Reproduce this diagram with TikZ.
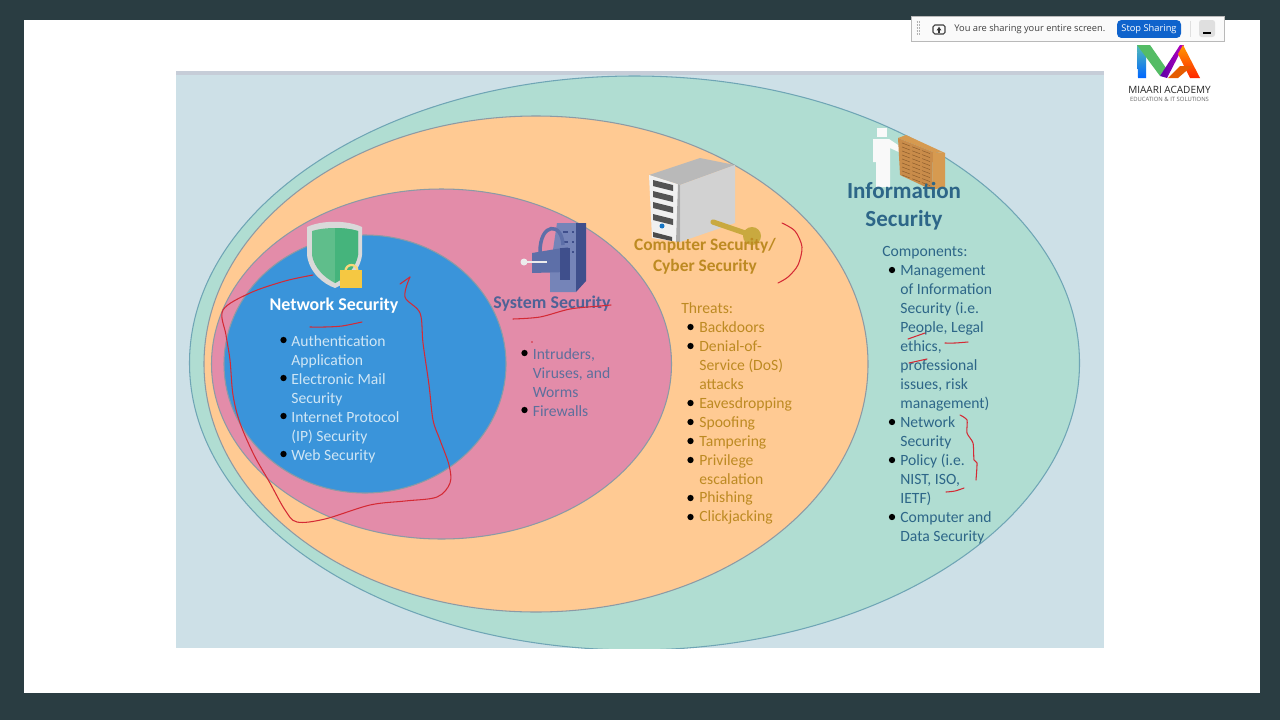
\documentclass[tikz,border=0pt]{standalone}
\usepackage{fontspec}
\usetikzlibrary{arrows.meta}
\setmainfont{Carlito}
\newfontfamily\uifont{Open Sans}
\definecolor{frame}{HTML}{2A3D42}
\definecolor{slide}{HTML}{CDE0E7}
\definecolor{stripe}{HTML}{C6CDD8}
\definecolor{teal}{HTML}{B0DDD2}
\definecolor{tealedge}{HTML}{6FA5B5}
\definecolor{orangeb}{HTML}{FFCA93}
\definecolor{pinkb}{HTML}{E38CA9}
\definecolor{blueb}{HTML}{3A94DA}
\definecolor{infot}{HTML}{2D6688}
\definecolor{compt}{HTML}{BD8A22}
\definecolor{syst}{HTML}{4F6296}
\definecolor{sysl}{HTML}{5D6F9C}
\definecolor{netl}{HTML}{CFE6F5}
\definecolor{inkred}{HTML}{D42A35}
\definecolor{edgeg}{HTML}{8C9AA5}
\definecolor{icon}{HTML}{5D6FA8}
\definecolor{icond}{HTML}{3F4F8C}
\definecolor{iconl}{HTML}{7584B8}
\definecolor{wood}{HTML}{C98C4A}
\definecolor{woodd}{HTML}{D69A50}
\definecolor{woodl}{HTML}{8F5F2E}
\definecolor{brass}{HTML}{C9A93F}
\definecolor{shieldl}{HTML}{5FBE8B}
\definecolor{shieldd}{HTML}{45B47C}
\definecolor{lockc}{HTML}{F5C842}
\definecolor{stopc}{HTML}{0F63CC}
\tikzset{
  listtext/.style={anchor=north west,inner sep=0pt,align=left,font=\fontsize{8.9}{10.8}\selectfont},
  head/.style={inner sep=0pt,align=center},
  dot/.style={circle,fill=black,inner sep=0pt,minimum size=3.6pt},
  ink/.style={draw=inkred,line width=0.6pt,line cap=round,line join=round},
  set/.style={draw=edgeg,line width=0.6pt},
  uitext/.style={inner sep=0pt,font=\uifont\fontsize{5.3}{7}\selectfont}
}
\begin{document}
\begin{tikzpicture}[x=0.02cm,y=-0.02cm]
\useasboundingbox (0,0) rectangle (1280,720);
\fill[frame] (0,0) rectangle (1280,720);
\fill[white] (24,20) rectangle (1260,693);
% slide
\fill[slide] (176,72) rectangle (1104,648);
\fill[stripe] (176,71) rectangle (1104,75);
\begin{scope}
\clip (176,72) rectangle (1104,648);
\draw[fill=teal,draw=tealedge,line width=0.6pt] (634.5,363) ellipse [x radius=445,y radius=287];
\draw[set,fill=orangeb] (536,364) ellipse [x radius=332,y radius=248];
\draw[set,fill=pinkb] (441.5,364) ellipse [x radius=230,y radius=175];
\draw[set,fill=blueb] (365,364) ellipse [x radius=141,y radius=129];
\end{scope}
% shield
\fill[gray!30!white] (307,227) .. controls (322,220) and (347,220) .. (362,227) -- (362,255) .. controls (360,272) and (345,284) .. (335,288) .. controls (323,284) and (309,272) .. (307,255) -- cycle;
\fill[shieldl] (312,231) .. controls (325,227) and (345,227) .. (358,231) -- (358,255) .. controls (356,268) and (345,278) .. (335,283) .. controls (325,278) and (314,268) .. (312,255) -- cycle;
\fill[shieldd] (335,228) .. controls (343,228) and (351,229) .. (358,231) -- (358,255) .. controls (356,268) and (345,278) .. (335,283) -- cycle;
\draw[lockc!70!white,line width=1.3pt] (345.5,271) arc[start angle=180,end angle=360,radius=6];
\fill[lockc] (340,270) rectangle (362,288);
% tower and padlock
\fill[iconl] (557,223) -- (576,223) -- (576,292) -- (550,292) -- (550,270) -- cycle;
\fill[icond] (576,223) -- (586,223) -- (586,281) -- (576,292) -- cycle;
\foreach \yy in {232,242,252} \draw[icond,line width=0.8pt,dash pattern=on 3pt off 2pt] (563,\yy) -- (574,\yy);
\draw[icon,line width=2pt] (540,252) .. controls (540,222) and (562,222) .. (563,245);
\fill[icon] (532,253) -- (568,247) -- (568,272) -- (532,273) -- cycle;
\fill[icond] (560,248) rectangle (570,280);
\draw[white!85!gray,line width=1.2pt] (524,262) -- (547,262);
\fill[white!85!gray] (524,262) circle[radius=3.5];
% server
\fill[gray!55!white] (649,175) -- (700,158) -- (735,165) -- (680,185) -- cycle;
\fill[gray!35!white] (680,185) -- (735,165) -- (735,223) -- (680,242) -- cycle;
\fill[gray!12!white] (649,175) -- (680,185) -- (680,242) -- (652,238) -- cycle;
\fill[gray!65!white] (678,184) -- (680,185) -- (680,242) -- (676,242) -- cycle;
\foreach \yy in {180,191,202,214} \fill[gray!65!black] (653,\yy) -- (673,\yy+5) -- (673,\yy+11) -- (653,\yy+6) -- cycle;
\fill[cyan!55!blue] (662,226) circle[radius=2.5];
\fill[gray!60!black] (653,232) -- (672,237) -- (672,241) -- (653,237) -- cycle;
% key
\draw[brass,line width=3pt,line cap=round] (713,222) -- (745,233);
\fill[brass] (752,236) circle[radius=9];
% man and cabinet
\fill[gray!5!white] (877,128) rectangle (887,137);
\fill[gray!5!white] (873,139) -- (889,139) -- (907,151) -- (905,155) -- (890,148) -- (890,187) -- (876,187) -- (876,162) -- (873,162) -- cycle;
\fill[woodd] (898,138) -- (906,135) -- (945,153) -- (933,152) -- cycle;
\fill[woodd] (933,152) -- (945,153) -- (945,187) -- (932,190) -- cycle;
\fill[wood] (898,138) -- (933,152) -- (932,190) -- (900,175) -- cycle;
\foreach \xa/\xb in {902/910,912/920,922/930} \foreach \ya in {0,4,...,32}
  \draw[woodl,line width=0.3pt] (\xa,143+\xa*0.38-342.8+\ya) -- (\xb,143+\xb*0.38-342.8+\ya);
% set titles
\node[head,text=white,font=\fontsize{10.2}{12}\selectfont\bfseries] (nettitle) at (334,305.5) {Network Security};
\node[head,text=syst,font=\fontsize{10.2}{12}\selectfont\bfseries] (systitle) at (552,303.5) {System Security};
\node[head,text=compt,font=\fontsize{9.9}{11.9}\selectfont\bfseries] (comptitle) at (705,256) {Computer Security/\\Cyber Security};
\node[head,text=infot,font=\fontsize{13.1}{15.9}\selectfont\bfseries] (infotitle) at (904,206.5) {Information\\Security};
% lists
\node[listtext,text=netl] (netlist) at (291,335) {Authentication\\Application\\Electronic Mail\\Security\\Internet Protocol\\(IP) Security\\Web Security};
\foreach \n/\yy in {a/340,b/378,c/416,d/454} \node[dot] (net\n) at (283.5,\yy) {};
\node[listtext,text=sysl] (syslist) at (532.5,348) {Intruders,\\Viruses, and\\Worms\\Firewalls};
\foreach \n/\yy in {a/353,b/410} \node[dot] (sys\n) at (524.5,\yy) {};
\node[listtext,text=compt] (threats) at (681,302) {Threats:};
\node[listtext,text=compt] (complist) at (699,321) {Backdoors\\Denial-of-\\Service (DoS)\\attacks\\Eavesdropping\\Spoofing\\Tampering\\Privilege\\escalation\\Phishing\\Clickjacking};
\foreach \n/\yy in {a/327,b/346,c/403,d/422,e/441,f/460,g/498,h/517} \node[dot] (cmp\n) at (690.5,\yy) {};
\node[listtext,text=infot] (comps) at (882,246) {Components:};
\node[listtext,text=infot] (infolist) at (900,265) {Management\\of Information\\Security (i.e.\\People, Legal\\ethics,\\professional\\issues, risk\\management)\\Network\\Security\\Policy (i.e.\\NIST, ISO,\\IETF)\\Computer and\\Data Security};
\foreach \n/\yy in {a/270,b/422,c/460,d/517} \node[dot] (inf\n) at (892,\yy) {};
% red annotations
\draw[ink] plot[smooth,tension=0.55] coordinates {(313,275) (285,281) (250,293) (223,310) (226,335) (230,360) (233,395) (240,423) (254,455) (270,483) (285,510) (297,522) (325,519) (370,505) (405,501) (437,497) (450,483) (449,465) (440,440) (433,420) (429,385) (423,343) (420,313) (405,297) (410,277)};
\draw[ink] (410,277) -- (400,284);
\draw[ink] plot[smooth] coordinates {(310,327) (325,327) (342,326) (362,322)};
\draw[ink] plot[smooth] coordinates {(513,319) (540,317) (570,309) (600,306) (611,305)};
\draw[ink] plot[smooth] coordinates {(782,223) (795,231) (802,247) (798,265) (788,277) (778,283)};
\draw[ink] (908,339) -- (925,333);
\draw[ink] plot[smooth] coordinates {(945,343) (955,343) (968,342)};
\draw[ink] (909,363) -- (927,359);
\draw[ink] plot[smooth,tension=0.4] coordinates {(960,415) (967,420) (967,433) (973,443) (974,460) (977,463) (976,480)};
\draw[ink] plot[smooth] coordinates {(946,492) (955,491) (964,488)};
\fill[inkred] (532,342) circle[radius=0.8];
% share bar
\draw[draw=gray!55!white,fill=white!96!gray] (911,16) rectangle (1224,41);
\foreach \yy in {22,25,28,31,34} \draw[gray!60!white,line width=0.8pt,dash pattern=on 0.8pt off 0.6pt] (916.5,\yy) -- (919.5,\yy);
\draw[black!75,rounded corners=1pt,line width=0.6pt] (933,25) rectangle (945,34);
\draw[black!80,line width=0.6pt,-{Latex[length=2.2pt,width=3pt]}] (939,32.5) -- (939,26.5);
\node[uitext,anchor=west,text=black!75] (sharetext) at (954,29.5) {You are sharing your entire screen.};
\node[uitext,fill=stopc,text=white,rounded corners=2.5pt,minimum width=1.28cm,minimum height=0.36cm] (stopbtn) at (1149,29) {Stop Sharing};
\draw[gray!25!white] (1190,21) -- (1190,37);
\fill[gray!25!white,rounded corners=1.5pt] (1199,20) rectangle (1215,37);
\draw[black,line width=0.6pt] (1203,33) -- (1211,33);
% logo
\shade[bottom color=blue!60!cyan,top color=teal!60!cyan!80!black] (1138,78) -- (1137,45) -- (1146,45) -- (1146,78) -- cycle;
\fill[green!40!teal!80!black] (1137,45) -- (1150,45) -- (1166,68) -- (1160,76) -- cycle;
\shade[left color=violet!70!blue,right color=magenta!75!black] (1160,76) -- (1180,45) -- (1184,45) -- (1167,78) -- cycle;
\shade[top color=orange!80!yellow,bottom color=red!70!orange] (1183,45) -- (1200,78) -- (1190,78) -- (1178,54) -- cycle;
\fill[orange!80!red!90!black] (1168,78) -- (1180,66) -- (1192,66) -- (1178,78) -- cycle;
\node[inner sep=0pt,text=black!85,font=\uifont\fontsize{5.7}{6}\selectfont] (logoa) at (1169.5,90) {MIAARI ACADEMY};
\node[inner sep=0pt,text=black!60,font=\uifont\fontsize{3.35}{4}\selectfont] (logob) at (1169.5,99.5) {EDUCATION \& IT SOLUTIONS};
\end{tikzpicture}
\end{document}
